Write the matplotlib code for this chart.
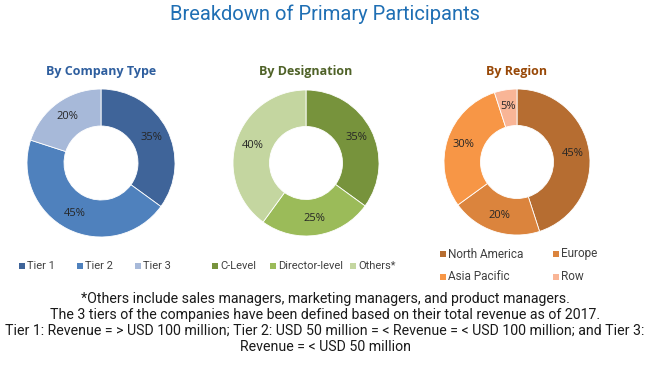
import matplotlib.pyplot as plt

# data
company_labels = ['Tier 1', 'Tier 2', 'Tier 3']
company_values = [35, 45, 20]
company_colors = ['#3F6499', '#4F81BD', '#A7B9D9']

designation_labels = ['C-Level', 'Director-level', 'Others*']
designation_values = [35, 25, 40]
designation_colors = ['#77933C', '#9BBB59', '#C4D6A0']

region_labels = ['North America', 'Europe', 'Asia Pacific', 'Row']
region_values = [45, 20, 30, 5]
region_colors = ['#B66D31', '#DB843D', '#F79646', '#F9B596']

notes = [
    '*Others include sales managers, marketing managers, and product managers.',
    'The 3 tiers of the companies have been defined based on their total revenue as of 2017.',
    'Tier 1: Revenue = > USD 100 million; Tier 2: USD 50 million = < Revenue = < USD 100 million; and Tier 3:',
    'Revenue = < USD 50 million',
]

W, H = 650, 371
narrow = ['Liberation Sans Narrow', 'Roboto']
fig = plt.figure(figsize=(6.5, 3.71), dpi=100)
ax = fig.add_axes([0, 0, 1, 1])


def donut(values, colors, cx, cy, r, title, title_color):
    ax.pie(values, colors=colors, center=(cx, H - cy), radius=r,
           startangle=90, counterclock=False,
           wedgeprops=dict(width=r * 0.5, edgecolor='white', linewidth=0.6),
           autopct='%d%%', pctdistance=0.77,
           textprops=dict(fontsize=8, color='#262626', family='Open Sans'))
    ax.text(cx, H - 72, title, ha='center', va='center', fontsize=9,
            fontweight='bold', color=title_color, family='Open Sans')


donut(company_values, company_colors, 101, 163, 74, 'By Company Type', '#2E5E9E')
donut(designation_values, designation_colors, 306, 163, 73, 'By Designation', '#4F6228')
donut(region_values, region_colors, 517, 162, 73, 'By Region', '#984807')


def legend_row(labels, colors, xs, y, size):
    for lab, col, x in zip(labels, colors, xs):
        ax.scatter([x], [H - y], marker='s', s=16, color=col, linewidths=0)
        ax.text(x + 5, H - y, lab, ha='left', va='center', fontsize=size,
                color='#404040', family=narrow)


legend_row(company_labels, company_colors, [22, 80, 138], 266, 8)
legend_row(designation_labels, designation_colors, [215, 273, 353], 266, 8)
legend_row(region_labels[:2], region_colors[:2], [443, 556], 254, 8.5)
legend_row(region_labels[2:], region_colors[2:], [443, 556], 277, 8.5)

ax.text(W / 2, H - 14, 'Breakdown of Primary Participants', ha='center', va='center',
        fontsize=14.5, color='#1F6FB4', family='Roboto')

for i, line in enumerate(notes):
    ax.text(W / 2, H - (299 + 16 * i), line, ha='center', va='center',
            fontsize=10.2, color='#1a1a1a', family='Roboto')

ax.set_xlim(0, W)
ax.set_ylim(0, H)
ax.set_aspect('equal')
ax.axis('off')

fig.savefig('out.png', dpi=100, facecolor='white')
